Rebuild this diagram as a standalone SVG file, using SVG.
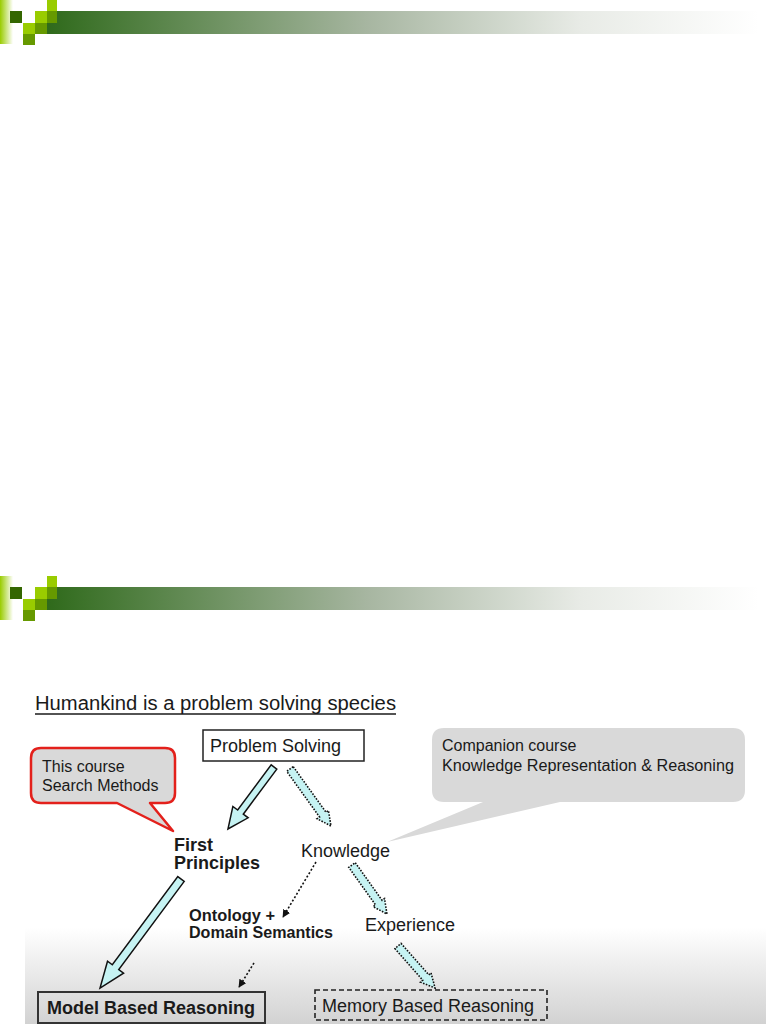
<svg xmlns="http://www.w3.org/2000/svg" width="768" height="1024" viewBox="0 0 768 1024">
<style>
.t{font-family:"Liberation Sans",Arial,sans-serif;fill:#1a1a1a}
.b{font-weight:bold}
.blk{fill:#c6f3f3;stroke:#111;stroke-width:1.5;stroke-linejoin:miter}
.dot{fill:#c6f3f3;stroke:#111;stroke-width:1.6;stroke-dasharray:1.6 1.4}
.thin{stroke:#111;stroke-width:1.6;stroke-dasharray:2 2;fill:none}
.lg{fill:#99cc00}.md{fill:#669900}.dk{fill:#336600}
</style>
<defs>
<linearGradient id="bar" x1="0" x2="1" y1="0" y2="0">
<stop offset="0" stop-color="#2f6a1b"/>
<stop offset="0.45" stop-color="#a7b6a1"/>
<stop offset="0.75" stop-color="#e8ebe6"/>
<stop offset="1" stop-color="#ffffff"/>
</linearGradient>
<linearGradient id="strip" x1="0" x2="1" y1="0" y2="0">
<stop offset="0" stop-color="#99cc00"/>
<stop offset="1" stop-color="#ffffff"/>
</linearGradient>
<linearGradient id="bg" x1="0" x2="0" y1="0" y2="1">
<stop offset="0" stop-color="#ffffff"/>
<stop offset="1" stop-color="#d2d2d2"/>
</linearGradient>
<marker id="ah" viewBox="0 0 10 10" refX="9" refY="5" markerWidth="5" markerHeight="5" orient="auto">
<path d="M0,0 L10,5 L0,10 Z" fill="#111"/>
</marker>
<g id="hdr">
<rect x="0" y="0" width="13" height="44" fill="url(#strip)"/>
<rect x="47" y="11" width="712" height="23" fill="url(#bar)"/>
<rect class="dk" x="10" y="11" width="12" height="12"/>
<rect class="lg" x="47" y="0" width="10" height="11"/>
<rect class="lg" x="35" y="11" width="12" height="12"/>
<rect class="md" x="47" y="11" width="10" height="12"/>
<rect class="lg" x="23" y="23" width="12" height="11"/>
<rect class="md" x="35" y="23" width="12" height="11"/>
<rect class="md" x="23" y="34" width="12" height="11"/>
</g>
</defs>
<rect width="768" height="1024" fill="#ffffff"/>
<use href="#hdr"/>
<use href="#hdr" transform="translate(0,576)"/>
<rect x="25" y="928" width="741" height="96" fill="url(#bg)"/>

<g id="title">
<text class="t" x="35" y="710" font-size="20" textLength="361" lengthAdjust="spacingAndGlyphs">Humankind is a problem solving species</text>
<line x1="35" y1="714" x2="396" y2="714" stroke="#1a1a1a" stroke-width="1.4"/>
</g>

<g id="callout-search">
<path d="M41,748 H165 Q175,748 175,758 V793 Q175,803 165,803 H150 L173,831 L117,803 H41 Q31,803 31,793 V758 Q31,748 41,748 Z" fill="#d9d9d9" stroke="#e3201b" stroke-width="2.5" stroke-linejoin="round"/>
<text class="t" x="42" y="772" font-size="16">This course</text>
<text class="t" x="42" y="791" font-size="16">Search Methods</text>
</g>

<g id="callout-companion">
<path d="M444,728 H733 Q745,728 745,740 V790 Q745,802 733,802 H560 L387,842 L483,802 H444 Q432,802 432,790 V740 Q432,728 444,728 Z" fill="#d9d9d9"/>
<text class="t" x="442" y="751" font-size="16">Companion course</text>
<text class="t" x="442" y="771" font-size="16" textLength="292" lengthAdjust="spacingAndGlyphs">Knowledge Representation &amp; Reasoning</text>
</g>

<g id="problem-solving">
<rect x="203" y="730" width="161" height="31" fill="#ffffff" stroke="#222" stroke-width="1.5"/>
<text class="t" x="210" y="752" font-size="18">Problem Solving</text>
</g>

<g id="first-principles">
<text class="t b" x="174" y="851" font-size="18">First</text>
<text class="t b" x="174" y="869" font-size="18">Principles</text>
</g>

<g id="knowledge">
<text class="t" x="301" y="857" font-size="18">Knowledge</text>
</g>

<g id="ontology">
<text class="t b" x="189" y="921" font-size="16" textLength="86" lengthAdjust="spacingAndGlyphs">Ontology +</text>
<text class="t b" x="189" y="938" font-size="16" textLength="144" lengthAdjust="spacingAndGlyphs">Domain Semantics</text>
</g>

<g id="experience">
<text class="t" x="365" y="931" font-size="18">Experience</text>
</g>

<g id="model-based">
<rect x="38" y="992" width="227" height="31" fill="none" stroke="#333" stroke-width="2"/>
<text class="t b" x="47" y="1014" font-size="18">Model Based Reasoning</text>
</g>

<g id="memory-based">
<rect x="315" y="990" width="232" height="30" fill="none" stroke="#222" stroke-width="1.6" stroke-dasharray="5 3"/>
<text class="t" x="322" y="1012" font-size="18">Memory Based Reasoning</text>
</g>

<g id="connectors">
<polygon class="blk" transform="translate(274,767) rotate(126.6)" points="0,-3.5 56.2,-3.5 56.2,-9.5 77.2,0 56.2,9.5 56.2,3.5 0,3.5"/>
<polygon class="dot" transform="translate(290,769) rotate(54.3)" points="0,-4 56.2,-4 56.2,-7 70.2,0 56.2,7 56.2,4 0,4"/>
<polygon class="blk" transform="translate(181,879) rotate(126.6)" points="0,-4 109.8,-4 109.8,-10 135.8,0 109.8,10 109.8,4 0,4"/>
<polygon class="dot" transform="translate(352,865) rotate(54.5)" points="0,-4 46.2,-4 46.2,-7 60.2,0 46.2,7 46.2,4 0,4"/>
<polygon class="dot" transform="translate(398,946) rotate(48.6)" points="0,-4 42,-4 42,-7 56,0 42,7 42,4 0,4"/>
<line class="thin" x1="316" y1="862" x2="283" y2="917" marker-end="url(#ah)"/>
<line class="thin" x1="254" y1="963" x2="239" y2="987" marker-end="url(#ah)"/>
</g>
</svg>
